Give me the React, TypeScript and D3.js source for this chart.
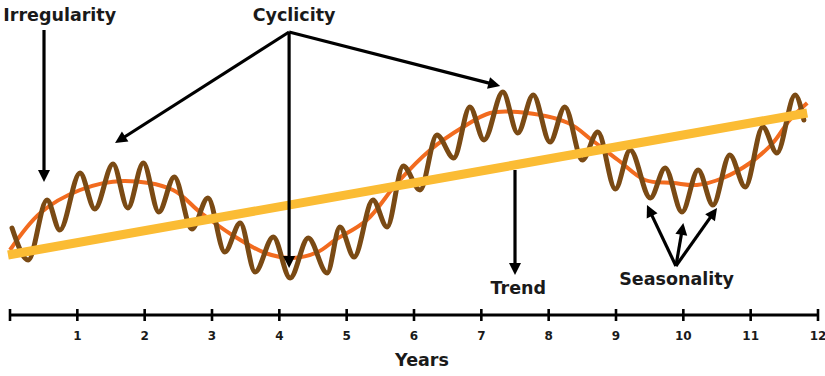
import React from "react";
import * as d3 from "d3";

// ---- data (years on x, level on y) ----
const obsYears = [0.03, 0.27, 0.55, 0.74, 1.04, 1.26, 1.53, 1.75, 1.98, 2.21, 2.44, 2.70, 2.94, 3.19, 3.42, 3.64, 3.91, 4.16, 4.43, 4.71, 4.90, 5.11, 5.39, 5.60, 5.84, 6.09, 6.34, 6.59, 6.83, 7.04, 7.32, 7.54, 7.77, 8.02, 8.24, 8.50, 8.73, 8.99, 9.21, 9.51, 9.73, 9.98, 10.22, 10.44, 10.69, 10.92, 11.18, 11.39, 11.66, 11.79];
const obsValues = [7.2, 4.0, 10.0, 7.0, 12.7, 9.1, 13.6, 9.2, 13.7, 8.8, 12.3, 7.1, 10.2, 4.8, 7.7, 2.8, 6.3, 2.2, 6.2, 2.7, 7.3, 4.3, 10.0, 7.3, 13.4, 11.0, 16.5, 14.2, 19.3, 16.0, 20.8, 16.7, 20.5, 15.8, 19.3, 14.0, 16.8, 11.1, 15.0, 10.2, 13.2, 8.8, 13.0, 9.5, 14.5, 11.3, 17.3, 14.7, 20.5, 18.0];

const cycleYears = [0.0, 0.45, 1.04, 1.68, 2.42, 2.82, 3.30, 3.79, 4.19, 4.57, 4.83, 5.30, 5.75, 6.24, 6.73, 7.13, 7.54, 8.29, 8.64, 9.03, 9.43, 9.85, 10.2, 10.59, 10.99, 11.33, 11.58, 11.84];
const cycleValues = [5.0, 8.7, 11.0, 11.9, 11.0, 8.8, 6.5, 4.7, 4.2, 4.8, 6.0, 8.0, 11.7, 15.0, 17.3, 18.7, 18.8, 17.7, 16.0, 14.0, 12.0, 11.7, 11.5, 12.2, 13.7, 15.7, 18.0, 19.7];

const trendYears = [-0.03, 11.84];
const trendValues = [4.5, 18.7];

const tickYears = [0, 1, 2, 3, 4, 5, 6, 7, 8, 9, 10, 11, 12];
const tickLabels = ["", "1", "2", "3", "4", "5", "6", "7", "8", "9", "10", "11", "12"];

// annotations: [year, value] pairs
const arrowFrom = [
  [0.505, 27.0],
  [4.145, 26.8],
  [4.145, 26.8],
  [4.145, 26.8],
  [7.5, 13.0],
  [9.89, 3.4],
  [9.89, 3.4],
  [9.89, 3.4],
];
const arrowTo = [
  [0.505, 11.8],
  [1.56, 15.7],
  [4.145, 3.2],
  [7.28, 21.4],
  [7.5, 2.5],
  [9.46, 9.5],
  [10.0, 7.7],
  [10.5, 9.2],
];
const labelTexts = ["Irregularity", "Cyclicity", "Trend", "Seasonality"];
const labelPos = [
  [-0.1, 27.9],
  [4.22, 27.9],
  [7.55, 0.6],
  [9.9, 1.5],
];
const labelAnchor = ["start", "middle", "middle", "middle"];

const W = 825;
const H = 376;

export default function App() {
  const x = d3.scaleLinear().domain([0, 12]).range([10, 818]);
  const y = d3.scaleLinear().domain([0, 22]).range([300, 80]);
  const axisY = 315;

  const obsPts: [number, number][] = obsYears.map((t, i) => [t, obsValues[i]]);
  const cycPts: [number, number][] = cycleYears.map((t, i) => [t, cycleValues[i]]);
  const trPts: [number, number][] = trendYears.map((t, i) => [t, trendValues[i]]);

  const obsLine = d3
    .line<[number, number]>()
    .x((d) => x(d[0]))
    .y((d) => y(d[1]))
    .curve(d3.curveMonotoneX);
  const cycLine = d3
    .line<[number, number]>()
    .x((d) => x(d[0]))
    .y((d) => y(d[1]))
    .curve(d3.curveCatmullRom.alpha(0.5));
  const trLine = d3
    .line<[number, number]>()
    .x((d) => x(d[0]))
    .y((d) => y(d[1]));

  const font = "'DejaVu Sans', sans-serif";

  const arrows = arrowFrom.map((f, i) => {
    const t = arrowTo[i];
    const x1 = x(f[0]);
    const y1 = y(f[1]);
    const x2 = x(t[0]);
    const y2 = y(t[1]);
    const dx = x2 - x1;
    const dy = y2 - y1;
    const len = Math.hypot(dx, dy);
    const ux = dx / len;
    const uy = dy / len;
    const hl = 12;
    const hw = 6;
    const bx = x2 - ux * hl;
    const by = y2 - uy * hl;
    const pts = [
      [x2, y2],
      [bx - uy * hw, by + ux * hw],
      [bx + uy * hw, by - ux * hw],
    ];
    return (
      <g key={"a" + i}>
        <line
          x1={x1}
          y1={y1}
          x2={x2 - ux * hl * 0.7}
          y2={y2 - uy * hl * 0.7}
          stroke="#000"
          strokeWidth={3.2}
        />
        <polygon points={pts.map((p) => p.join(",")).join(" ")} fill="#000" />
      </g>
    );
  });

  return (
    <svg
      width={W}
      height={H}
      style={{ position: "absolute", left: 0, top: 0, background: "#fff" }}
    >
      <rect x={0} y={0} width={W} height={H} fill="#fff" />
      {/* cyclical component */}
      <path d={cycLine(cycPts) || ""} fill="none" stroke="#F26B1F" strokeWidth={4} />
      {/* observed series */}
      <path
        d={obsLine(obsPts) || ""}
        fill="none"
        stroke="#7A4A14"
        strokeWidth={5}
        strokeLinecap="round"
        strokeLinejoin="round"
      />
      {/* trend */}
      <path d={trLine(trPts) || ""} fill="none" stroke="#FBBC34" strokeWidth={9} />

      {arrows}

      {labelTexts.map((s, i) => (
        <text
          key={s}
          x={x(labelPos[i][0])}
          y={y(labelPos[i][1])}
          textAnchor={labelAnchor[i] as any}
          fontFamily={font}
          fontWeight="bold"
          fontSize={17.5}
          fill="#1a1a1a"
        >
          {s}
        </text>
      ))}

      {/* x axis */}
      <line x1={x(0)} x2={x(12)} y1={axisY} y2={axisY} stroke="#000" strokeWidth={3} />
      {tickYears.map((t, i) => (
        <g key={"t" + t}>
          <line
            x1={x(t)}
            x2={x(t)}
            y1={axisY - 6}
            y2={axisY + 6}
            stroke="#000"
            strokeWidth={2.6}
          />
          <text
            x={x(t)}
            y={axisY + 25}
            textAnchor="middle"
            fontFamily={font}
            fontWeight="bold"
            fontSize={12}
            fill="#1a1a1a"
          >
            {tickLabels[i]}
          </text>
        </g>
      ))}
      <text
        x={422}
        y={366}
        textAnchor="middle"
        fontFamily={font}
        fontWeight="bold"
        fontSize={17.5}
        fill="#1a1a1a"
      >
        Years
      </text>
    </svg>
  );
}
